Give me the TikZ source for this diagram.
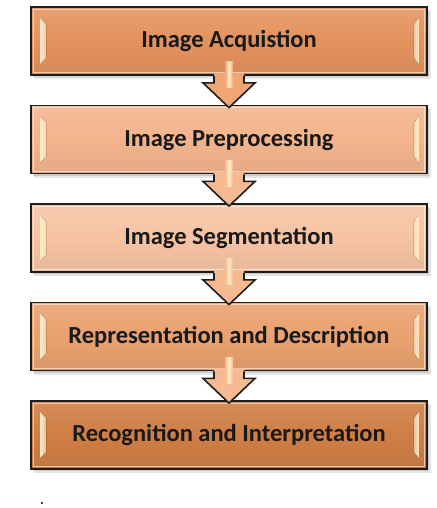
\documentclass[tikz,border=0pt]{standalone}
\usepackage{fontspec}
\setmainfont{Carlito}
\usetikzlibrary{calc}
\definecolor{cA}{HTML}{E4925E}
\definecolor{cB}{HTML}{F3B48C}
\definecolor{cC}{HTML}{F6C3A3}
\definecolor{cD}{HTML}{E9A16F}
\definecolor{cE}{HTML}{CF7E45}
\definecolor{arrA}{HTML}{F0A674}
\definecolor{arrB}{HTML}{F5BA92}
\definecolor{hilite}{HTML}{FDEBC8}
\definecolor{edge}{HTML}{1E1E1E}
\tikzset{
  stagebox/.style={rectangle, minimum width=396pt, minimum height=68pt,
    draw=edge, line width=1.8pt, font=\bfseries\fontsize{24.5}{28}\selectfont,
    text=black!90},
  arrowline/.style={draw=edge, line width=1.6pt, line join=miter},
}
\newcommand{\stage}[4]{%
  % #1 name, #2 y-centre, #3 colour, #4 text
  \fill[black, opacity=0.10] (34,#2-30) rectangle (431,#2+38);
  \fill[black, opacity=0.12] (33,#2-32) rectangle (429,#2+36);
  \node[stagebox, top color=#3!88!white, bottom color=#3!94!black, middle color=#3,
        shading angle=0] (#1) at (229,#2) {#4};
  \draw[#3!45!white, line width=1pt] ($(#1.north west)+(3.2,3.2)$) rectangle ($(#1.south east)+(-3.2,-3.2)$);
  \fill[left color=hilite, right color=hilite!60!#3]
     ($(#1.west)+(10,-23)$) -- ($(#1.west)+(16,-17)$) -- ($(#1.west)+(16,17)$) -- ($(#1.west)+(10,23)$) -- cycle;
  \fill[right color=hilite, left color=hilite!60!#3]
     ($(#1.east)+(-9,-23)$) -- ($(#1.east)+(-14,-17)$) -- ($(#1.east)+(-14,17)$) -- ($(#1.east)+(-9,23)$) -- cycle;
}
\newcommand{\flowarrow}[3]{%
  % #1 from, #2 to, #3 colour
  \fill[#3] ($(#1.south)+(-15,-3)$) -- ($(#1.south)+(-15,7)$) -- ($(#1.south)+(-26,7)$) --
     ($(#2.north)+(0,3)$) -- ($(#1.south)+(26,7)$) -- ($(#1.south)+(15,7)$) -- ($(#1.south)+(15,-3)$) -- cycle;
  \fill[left color=#3, right color=#3, middle color=hilite]
     ($(#1.south)+(-4,-14)$) rectangle ($(#1.south)+(4,12)$);
  \draw[arrowline] ($(#1.south)+(-15,0)$) -- ($(#1.south)+(-15,7)$) -- ($(#1.south)+(-26,7)$) --
     ($(#2.north)+(0,3)$) -- ($(#1.south)+(26,7)$) -- ($(#1.south)+(15,7)$) -- ($(#1.south)+(15,0)$);
}
\begin{document}
\begin{tikzpicture}[x=1pt,y=-1pt]
  \useasboundingbox[fill=white] (0,0) rectangle (436,508);
  \stage{b1}{41}{cA}{Image Acquistion}
  \stage{b2}{139.5}{cB}{Image Preprocessing}
  \stage{b3}{238}{cC}{Image Segmentation}
  \stage{b4}{336.5}{cD}{Representation and Description}
  \stage{b5}{435}{cE}{Recognition and Interpretation}
  \flowarrow{b1}{b2}{arrA}
  \flowarrow{b2}{b3}{arrB}
  \flowarrow{b3}{b4}{arrB}
  \flowarrow{b4}{b5}{arrB}
  \fill[black] (42,503) circle (1.1pt) coordinate (dot);
\end{tikzpicture}
\end{document}
